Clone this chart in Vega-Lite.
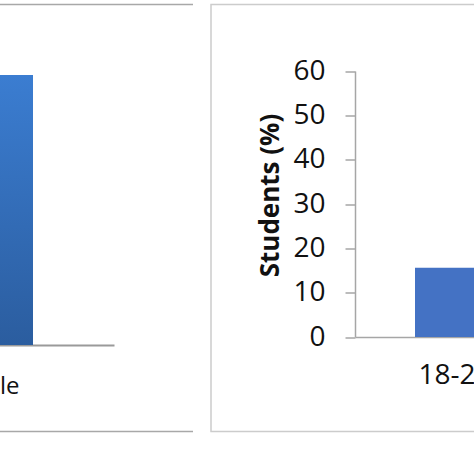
{
  "$schema": "https://vega.github.io/schema/vega-lite/v6.json",
  "background": "white",
  "padding": {"left": -547, "top": 3.5, "right": -294, "bottom": 43.5},
  "spacing": 16,
  "config": {
    "font": "Open Sans",
    "axis": {
      "grid": false,
      "labelFont": "Open Sans",
      "titleFont": "Open Sans",
      "labelColor": "#111111",
      "titleColor": "#111111"
    }
  },
  "datasets": {
    "gender": [
      {"Gender": "Male", "Students": 31},
      {"Gender": "Female", "Students": 69}
    ],
    "age": [
      {"Age": "18-24", "Students": 15.6},
      {"Age": "25-34", "Students": 52}
    ]
  },
  "hconcat": [
    {
      "width": 739,
      "height": 427,
      "view": {"stroke": "#a8a8a8", "strokeWidth": 1.5, "strokeDash": [739, 427, 1166, 0]},
      "data": {"name": "gender"},
      "mark": {
        "type": "bar",
        "color": {
          "gradient": "linear",
          "x1": 0, "y1": 0, "x2": 0, "y2": 1,
          "stops": [
            {"offset": 0, "color": "#3b7dd1"},
            {"offset": 1, "color": "#2b5d9f"}
          ]
        }
      },
      "encoding": {
        "x": {
          "field": "Gender",
          "type": "nominal",
          "sort": ["Male", "Female"],
          "scale": {"range": [120, 660], "paddingInner": 0.6, "paddingOuter": 0.3},
          "axis": {
            "title": null,
            "offset": -86.5,
            "labelAngle": 0,
            "ticks": false,
            "domainColor": "#9a9a9a",
            "domainWidth": 2,
            "labelFontSize": 24,
            "labelPadding": 29
          }
        },
        "y": {
          "field": "Students",
          "type": "quantitative",
          "scale": {"domain": [0, 70], "range": [340.5, 66.5], "nice": false},
          "axis": null
        }
      }
    },
    {
      "width": 560,
      "height": 427,
      "view": {"stroke": "#cccccc", "strokeWidth": 1.5},
      "data": {"name": "age"},
      "mark": {"type": "bar", "color": "#4472c4"},
      "encoding": {
        "x": {
          "field": "Age",
          "type": "nominal",
          "sort": null,
          "scale": {"range": [144, 544], "paddingInner": 0.6, "paddingOuter": 0.3},
          "axis": {
            "title": null,
            "offset": -94.5,
            "labelAngle": 0,
            "ticks": false,
            "domainColor": "#a6a6a6",
            "domainWidth": 1.5,
            "labelFontSize": 28,
            "labelPadding": 24
          }
        },
        "y": {
          "field": "Students",
          "type": "quantitative",
          "scale": {"domain": [0, 60], "range": [332.5, 66.5], "nice": false},
          "axis": {
            "title": "Students (%)",
            "values": [0, 10, 20, 30, 40, 50, 60],
            "offset": -144,
            "domainColor": "#a6a6a6",
            "domainWidth": 1.5,
            "tickColor": "#a6a6a6",
            "tickWidth": 1.5,
            "tickSize": 10,
            "labelFontSize": 28,
            "labelPadding": 20,
            "titleFontSize": 26,
            "titleFontWeight": "bold",
            "titleAngle": -90,
            "titleX": -85,
            "titleY": 190.5,
            "titleAlign": "center",
            "titleBaseline": "middle"
          }
        }
      }
    }
  ]
}
